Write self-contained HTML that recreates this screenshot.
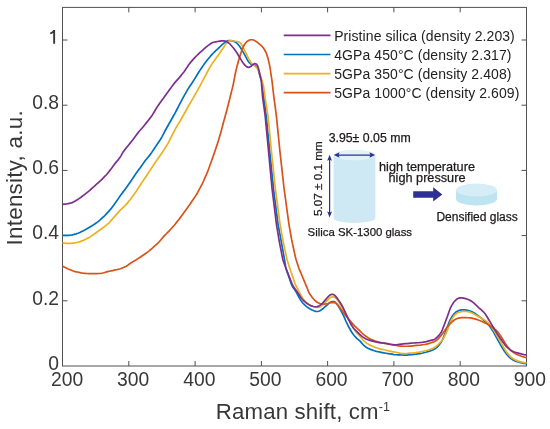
<!DOCTYPE html><html><head><meta charset="utf-8"><style>html,body{margin:0;padding:0;background:#fff;}svg{display:block;will-change:transform;}text{font-family:"Liberation Sans",sans-serif;}</style></head><body>
<svg width="550" height="429" viewBox="0 0 550 429">
<rect width="550" height="429" fill="#fff"/>
<defs><clipPath id="pc"><rect x="62.5" y="7.4" width="464.0" height="358.6"/></clipPath></defs>
<g stroke="#505050" stroke-width="1" fill="none">
<rect x="62.5" y="7.4" width="464.0" height="358.6"/>
<line x1="128.8" y1="366.0" x2="128.8" y2="361.0"/>
<line x1="128.8" y1="7.4" x2="128.8" y2="12.4"/>
<line x1="195.1" y1="366.0" x2="195.1" y2="361.0"/>
<line x1="195.1" y1="7.4" x2="195.1" y2="12.4"/>
<line x1="261.4" y1="366.0" x2="261.4" y2="361.0"/>
<line x1="261.4" y1="7.4" x2="261.4" y2="12.4"/>
<line x1="327.6" y1="366.0" x2="327.6" y2="361.0"/>
<line x1="327.6" y1="7.4" x2="327.6" y2="12.4"/>
<line x1="393.9" y1="366.0" x2="393.9" y2="361.0"/>
<line x1="393.9" y1="7.4" x2="393.9" y2="12.4"/>
<line x1="460.2" y1="366.0" x2="460.2" y2="361.0"/>
<line x1="460.2" y1="7.4" x2="460.2" y2="12.4"/>
<line x1="62.5" y1="300.8" x2="67.5" y2="300.8"/>
<line x1="526.5" y1="300.8" x2="521.5" y2="300.8"/>
<line x1="62.5" y1="235.6" x2="67.5" y2="235.6"/>
<line x1="526.5" y1="235.6" x2="521.5" y2="235.6"/>
<line x1="62.5" y1="170.4" x2="67.5" y2="170.4"/>
<line x1="526.5" y1="170.4" x2="521.5" y2="170.4"/>
<line x1="62.5" y1="105.2" x2="67.5" y2="105.2"/>
<line x1="526.5" y1="105.2" x2="521.5" y2="105.2"/>
<line x1="62.5" y1="40.0" x2="67.5" y2="40.0"/>
<line x1="526.5" y1="40.0" x2="521.5" y2="40.0"/>
</g>
<g clip-path="url(#pc)" fill="none" stroke-width="1.7" stroke-linejoin="round" stroke-linecap="round">
<path stroke="#0072BD" d="M62.30,235.40 L64.30,235.43 L66.30,235.46 L68.30,235.44 L70.27,235.23 L72.24,234.86 L74.18,234.41 L76.09,233.83 L77.99,233.19 L79.84,232.44 L81.64,231.58 L83.43,230.68 L85.21,229.77 L86.96,228.80 L88.69,227.80 L90.41,226.78 L92.12,225.74 L93.77,224.62 L95.41,223.47 L97.04,222.32 L98.63,221.11 L100.15,219.80 L101.63,218.46 L103.11,217.12 L104.57,215.76 L105.97,214.32 L107.32,212.85 L108.67,211.38 L110.02,209.90 L111.32,208.38 L112.52,206.79 L113.69,205.17 L114.86,203.54 L116.02,201.91 L117.17,200.27 L118.30,198.63 L119.44,196.98 L120.59,195.35 L121.78,193.74 L122.97,192.13 L124.17,190.53 L125.35,188.92 L126.52,187.30 L127.69,185.67 L128.86,184.05 L130.02,182.42 L131.15,180.77 L132.25,179.10 L133.36,177.43 L134.47,175.77 L135.59,174.11 L136.75,172.48 L137.93,170.87 L139.11,169.25 L140.28,167.63 L141.44,166.00 L142.59,164.37 L143.74,162.73 L144.91,161.11 L146.14,159.53 L147.40,157.98 L148.67,156.43 L149.93,154.88 L151.14,153.29 L152.27,151.64 L153.37,149.97 L154.48,148.30 L155.58,146.64 L156.69,144.97 L157.81,143.32 L158.93,141.66 L160.05,140.00 L161.12,138.31 L162.09,136.57 L163.02,134.79 L163.94,133.02 L164.86,131.24 L165.80,129.48 L166.78,127.73 L167.77,125.99 L168.76,124.26 L169.75,122.52 L170.73,120.78 L171.71,119.03 L172.69,117.29 L173.67,115.54 L174.64,113.79 L175.59,112.04 L176.52,110.26 L177.44,108.49 L178.37,106.72 L179.29,104.94 L180.21,103.17 L181.13,101.39 L182.05,99.61 L182.98,97.84 L183.95,96.09 L184.94,94.36 L185.94,92.62 L186.93,90.89 L187.94,89.16 L189.01,87.47 L190.12,85.81 L191.24,84.15 L192.36,82.49 L193.46,80.82 L194.52,79.12 L195.56,77.41 L196.59,75.71 L197.63,74.00 L198.69,72.30 L199.78,70.62 L200.88,68.95 L201.99,67.29 L203.10,65.62 L204.26,63.99 L205.46,62.40 L206.68,60.81 L207.92,59.24 L209.20,57.71 L210.49,56.18 L211.82,54.68 L213.18,53.22 L214.58,51.79 L216.03,50.42 L217.54,49.10 L219.01,47.75 L220.44,46.36 L221.87,44.96 L223.36,43.62 L224.91,42.37 L226.57,41.29 L228.40,40.65 L230.35,40.58 L232.31,40.91 L234.20,41.51 L235.93,42.45 L237.46,43.69 L238.75,45.20 L239.93,46.81 L241.02,48.49 L242.05,50.20 L243.05,51.93 L244.03,53.68 L244.99,55.43 L245.95,57.19 L246.89,58.95 L247.85,60.70 L248.99,62.31 L250.43,63.66 L252.10,64.65 L253.97,65.28 L255.75,66.05 L257.07,67.35 L257.96,69.11 L258.62,70.98 L259.15,72.91 L259.65,74.85 L260.19,76.77 L260.83,78.66 L261.46,80.55 L261.88,82.50 L262.15,84.48 L262.40,86.46 L262.66,88.45 L262.91,90.43 L263.17,92.41 L263.42,94.40 L263.68,96.38 L263.93,98.37 L264.19,100.35 L264.44,102.33 L264.70,104.32 L264.95,106.30 L265.21,108.29 L265.46,110.27 L265.72,112.25 L265.97,114.24 L266.21,116.22 L266.42,118.21 L266.62,120.20 L266.82,122.19 L267.02,124.18 L267.22,126.17 L267.42,128.16 L267.62,130.15 L267.81,132.14 L268.01,134.13 L268.21,136.13 L268.41,138.12 L268.61,140.11 L268.81,142.10 L269.01,144.09 L269.21,146.08 L269.41,148.07 L269.61,150.06 L269.80,152.05 L270.00,154.04 L270.20,156.03 L270.40,158.02 L270.60,160.01 L270.80,162.00 L271.00,163.99 L271.20,165.98 L271.40,167.97 L271.60,169.96 L271.80,171.95 L271.99,173.94 L272.19,175.93 L272.39,177.92 L272.59,179.91 L272.79,181.90 L272.99,183.89 L273.19,185.88 L273.40,187.87 L273.64,189.86 L273.89,191.84 L274.14,193.83 L274.40,195.81 L274.65,197.79 L274.91,199.78 L275.16,201.76 L275.41,203.75 L275.67,205.73 L275.92,207.72 L276.17,209.70 L276.43,211.68 L276.68,213.67 L276.93,215.65 L277.19,217.64 L277.44,219.62 L277.69,221.60 L277.97,223.59 L278.30,225.56 L278.66,227.52 L279.03,229.49 L279.40,231.46 L279.77,233.42 L280.14,235.39 L280.50,237.35 L280.87,239.32 L281.23,241.29 L281.59,243.26 L281.94,245.22 L282.29,247.19 L282.65,249.16 L283.00,251.13 L283.36,253.10 L283.71,255.07 L284.07,257.04 L284.42,259.01 L284.74,260.98 L285.04,262.96 L285.34,264.93 L285.66,266.91 L286.13,268.84 L286.75,270.74 L287.40,272.63 L288.05,274.53 L288.70,276.42 L289.35,278.31 L290.00,280.20 L290.65,282.09 L291.31,283.98 L292.08,285.81 L293.11,287.50 L294.27,289.13 L295.43,290.76 L296.46,292.47 L297.37,294.24 L298.28,296.03 L299.24,297.77 L300.28,299.48 L301.38,301.15 L302.60,302.73 L303.93,304.22 L305.37,305.60 L306.90,306.88 L308.53,308.03 L310.24,309.06 L312.02,309.97 L313.85,310.75 L315.74,311.34 L317.66,311.49 L319.53,310.99 L321.22,310.00 L322.80,308.78 L324.31,307.47 L325.79,306.13 L327.27,304.77 L328.77,303.46 L330.37,302.29 L332.13,301.50 L333.94,301.52 L335.54,302.49 L336.88,303.95 L338.06,305.55 L339.09,307.26 L340.05,309.01 L341.01,310.77 L341.96,312.53 L342.89,314.30 L343.74,316.11 L344.52,317.95 L345.29,319.79 L346.10,321.62 L346.96,323.42 L347.86,325.21 L348.77,326.99 L349.74,328.74 L350.74,330.47 L351.77,332.19 L352.88,333.84 L354.10,335.42 L355.38,336.96 L356.79,338.36 L358.34,339.62 L359.84,340.92 L361.17,342.40 L362.44,343.94 L363.82,345.37 L365.34,346.67 L367.00,347.76 L368.78,348.64 L370.63,349.41 L372.50,350.11 L374.38,350.77 L376.31,351.32 L378.25,351.76 L380.21,352.16 L382.18,352.55 L384.14,352.93 L386.11,353.26 L388.09,353.55 L390.07,353.85 L392.04,354.21 L394.00,354.55 L395.99,354.77 L397.98,354.88 L399.98,354.92 L401.98,355.00 L403.98,355.10 L405.97,355.11 L407.96,354.96 L409.96,354.77 L411.95,354.58 L413.94,354.39 L415.93,354.18 L417.91,353.90 L419.88,353.59 L421.84,353.22 L423.79,352.75 L425.73,352.26 L427.65,351.72 L429.57,351.14 L431.46,350.50 L433.28,349.70 L435.04,348.77 L436.64,347.60 L438.06,346.21 L439.36,344.70 L440.53,343.08 L441.63,341.42 L442.57,339.66 L443.31,337.81 L444.02,335.94 L444.72,334.07 L445.42,332.20 L446.11,330.32 L446.79,328.44 L447.47,326.56 L448.15,324.67 L448.85,322.80 L449.64,320.97 L450.56,319.20 L451.52,317.44 L452.54,315.73 L453.76,314.18 L455.17,312.76 L456.72,311.54 L458.48,310.64 L460.36,310.07 L462.33,309.88 L464.33,309.88 L466.31,310.04 L468.26,310.44 L470.16,311.04 L471.99,311.83 L473.76,312.76 L475.44,313.83 L477.09,314.96 L478.72,316.12 L480.33,317.31 L481.86,318.59 L483.34,319.93 L484.82,321.28 L486.30,322.63 L487.76,323.99 L489.10,325.46 L490.25,327.08 L491.36,328.75 L492.46,330.41 L493.51,332.12 L494.48,333.86 L495.44,335.62 L496.39,337.38 L497.35,339.13 L498.32,340.88 L499.30,342.63 L500.28,344.37 L501.27,346.11 L502.28,347.83 L503.36,349.52 L504.46,351.19 L505.56,352.86 L506.76,354.45 L508.12,355.91 L509.53,357.32 L511.03,358.63 L512.70,359.71 L514.44,360.67 L516.28,361.43 L518.19,361.99 L520.13,362.48 L522.08,362.94 L524.04,363.34 L526.01,363.66 L527.00,363.80"/>
<path stroke="#EDB120" d="M62.30,242.80 L64.28,243.06 L66.27,243.30 L68.26,243.41 L70.25,243.35 L72.25,243.21 L74.23,242.97 L76.20,242.65 L78.15,242.23 L80.05,241.61 L81.92,240.92 L83.76,240.14 L85.56,239.27 L87.35,238.37 L89.11,237.44 L90.80,236.37 L92.44,235.23 L94.08,234.08 L95.72,232.93 L97.35,231.78 L98.99,230.63 L100.63,229.48 L102.24,228.30 L103.83,227.08 L105.39,225.84 L106.95,224.59 L108.47,223.29 L109.86,221.86 L111.19,220.37 L112.51,218.86 L113.83,217.36 L115.15,215.86 L116.47,214.35 L117.79,212.85 L119.11,211.35 L120.49,209.90 L121.95,208.53 L123.43,207.19 L124.88,205.82 L126.24,204.36 L127.53,202.83 L128.81,201.30 L130.08,199.75 L131.30,198.16 L132.48,196.55 L133.66,194.93 L134.83,193.31 L135.96,191.66 L137.06,189.99 L138.14,188.31 L139.23,186.63 L140.32,184.95 L141.42,183.28 L142.54,181.63 L143.66,179.97 L144.78,178.31 L145.90,176.65 L147.00,174.98 L148.11,173.32 L149.21,171.65 L150.32,169.98 L151.42,168.31 L152.53,166.64 L153.63,164.98 L154.74,163.31 L155.85,161.65 L156.99,160.00 L158.14,158.36 L159.29,156.73 L160.44,155.10 L161.61,153.47 L162.74,151.82 L163.82,150.14 L164.88,148.44 L165.94,146.75 L166.99,145.05 L167.99,143.31 L168.91,141.54 L169.83,139.76 L170.74,137.98 L171.65,136.20 L172.55,134.41 L173.44,132.62 L174.34,130.83 L175.27,129.06 L176.27,127.33 L177.30,125.62 L178.34,123.91 L179.37,122.20 L180.40,120.48 L181.39,118.74 L182.38,117.00 L183.37,115.26 L184.35,113.52 L185.33,111.78 L186.30,110.03 L187.26,108.27 L188.21,106.51 L189.18,104.76 L190.18,103.03 L191.20,101.31 L192.21,99.58 L193.23,97.86 L194.23,96.13 L195.22,94.39 L196.22,92.66 L197.21,90.92 L198.20,89.18 L199.16,87.43 L200.09,85.66 L201.03,83.89 L201.96,82.12 L202.89,80.35 L203.82,78.58 L204.76,76.81 L205.70,75.04 L206.63,73.28 L207.57,71.51 L208.53,69.75 L209.53,68.02 L210.56,66.31 L211.60,64.60 L212.67,62.91 L213.81,61.27 L214.98,59.64 L216.16,58.03 L217.35,56.42 L218.53,54.81 L219.67,53.16 L220.80,51.51 L221.92,49.85 L223.03,48.19 L224.14,46.52 L225.25,44.86 L226.44,43.27 L227.82,41.85 L229.41,40.92 L231.30,40.80 L233.28,41.00 L235.26,41.26 L237.24,41.51 L239.10,42.00 L240.62,43.14 L241.74,44.75 L242.66,46.52 L243.56,48.31 L244.45,50.10 L245.34,51.89 L246.24,53.68 L247.12,55.47 L248.00,57.27 L248.92,59.05 L249.87,60.80 L250.87,62.53 L252.10,64.05 L253.63,65.32 L255.28,66.40 L256.78,67.62 L257.88,69.23 L258.79,71.00 L259.51,72.86 L260.13,74.76 L260.74,76.66 L261.36,78.57 L261.98,80.47 L262.56,82.38 L263.05,84.32 L263.50,86.27 L263.84,88.23 L264.11,90.22 L264.36,92.20 L264.61,94.18 L264.87,96.17 L265.14,98.15 L265.44,100.13 L265.76,102.10 L266.08,104.08 L266.40,106.05 L266.72,108.03 L267.03,110.00 L267.35,111.98 L267.67,113.95 L267.96,115.93 L268.18,117.92 L268.38,119.91 L268.57,121.90 L268.77,123.89 L268.96,125.88 L269.15,127.87 L269.35,129.86 L269.54,131.85 L269.73,133.85 L269.93,135.84 L270.12,137.83 L270.32,139.82 L270.51,141.81 L270.70,143.80 L270.90,145.79 L271.09,147.78 L271.28,149.77 L271.48,151.76 L271.69,153.75 L271.90,155.74 L272.11,157.73 L272.32,159.72 L272.53,161.71 L272.74,163.70 L272.95,165.69 L273.16,167.68 L273.37,169.67 L273.58,171.66 L273.79,173.65 L274.00,175.64 L274.21,177.63 L274.42,179.62 L274.63,181.61 L274.84,183.60 L275.05,185.58 L275.26,187.57 L275.51,189.56 L275.76,191.54 L276.02,193.53 L276.28,195.51 L276.54,197.49 L276.80,199.48 L277.06,201.46 L277.32,203.44 L277.58,205.43 L277.83,207.41 L278.09,209.39 L278.35,211.38 L278.61,213.36 L278.87,215.35 L279.13,217.33 L279.39,219.31 L279.65,221.30 L279.92,223.28 L280.23,225.25 L280.57,227.23 L280.92,229.20 L281.26,231.17 L281.61,233.14 L281.96,235.11 L282.31,237.08 L282.66,239.04 L283.02,241.01 L283.43,242.97 L283.85,244.93 L284.27,246.88 L284.69,248.84 L285.11,250.79 L285.53,252.75 L285.96,254.70 L286.38,256.66 L286.81,258.61 L287.31,260.55 L287.90,262.46 L288.52,264.36 L289.14,266.26 L289.76,268.16 L290.40,270.06 L291.04,271.95 L291.68,273.85 L292.32,275.74 L292.97,277.64 L293.61,279.53 L294.25,281.43 L294.89,283.32 L295.60,285.18 L296.55,286.91 L297.58,288.60 L298.43,290.40 L299.24,292.23 L300.15,294.01 L301.13,295.75 L302.17,297.45 L303.33,299.07 L304.60,300.61 L306.00,302.03 L307.53,303.31 L309.17,304.44 L310.89,305.45 L312.70,306.30 L314.57,306.98 L316.50,307.39 L318.43,307.38 L320.24,306.72 L321.87,305.61 L323.36,304.28 L324.80,302.89 L326.22,301.48 L327.63,300.07 L329.06,298.67 L330.56,297.41 L332.31,296.73 L334.13,296.93 L335.72,297.98 L337.02,299.47 L338.19,301.09 L339.25,302.78 L340.28,304.49 L341.30,306.21 L342.33,307.93 L343.35,309.65 L344.36,311.38 L345.37,313.11 L346.38,314.83 L347.39,316.56 L348.36,318.30 L349.31,320.07 L350.25,321.84 L351.17,323.61 L352.07,325.39 L352.99,327.17 L353.99,328.90 L355.08,330.57 L356.22,332.21 L357.52,333.72 L358.94,335.12 L360.29,336.59 L361.51,338.17 L362.74,339.74 L364.13,341.16 L365.66,342.44 L367.29,343.60 L369.00,344.62 L370.79,345.50 L372.62,346.31 L374.46,347.09 L376.33,347.81 L378.22,348.43 L380.16,348.92 L382.12,349.34 L384.07,349.77 L386.01,350.26 L387.95,350.73 L389.90,351.17 L391.86,351.57 L393.83,351.95 L395.80,352.29 L397.75,352.70 L399.69,353.17 L401.65,353.43 L403.65,353.52 L405.65,353.53 L407.64,353.39 L409.63,353.20 L411.62,353.01 L413.61,352.82 L415.60,352.62 L417.59,352.35 L419.56,352.05 L421.53,351.68 L423.47,351.23 L425.41,350.74 L427.34,350.21 L429.26,349.64 L431.16,349.01 L432.99,348.24 L434.76,347.33 L436.39,346.21 L437.85,344.85 L439.24,343.42 L440.61,341.96 L441.95,340.48 L443.13,338.89 L444.10,337.15 L445.00,335.36 L445.87,333.56 L446.71,331.74 L447.52,329.91 L448.23,328.05 L448.89,326.16 L449.54,324.27 L450.23,322.39 L451.07,320.59 L452.07,318.86 L453.10,317.15 L454.27,315.56 L455.71,314.20 L457.31,313.04 L459.10,312.23 L461.02,311.70 L462.99,311.40 L464.98,311.32 L466.96,311.51 L468.91,311.92 L470.81,312.53 L472.64,313.31 L474.42,314.22 L476.16,315.20 L477.88,316.22 L479.61,317.23 L481.35,318.21 L483.12,319.13 L484.82,320.15 L486.39,321.38 L487.90,322.68 L489.28,324.12 L490.51,325.69 L491.70,327.29 L492.87,328.91 L493.97,330.59 L495.01,332.30 L496.04,334.01 L497.07,335.72 L498.07,337.46 L499.05,339.20 L500.02,340.95 L500.99,342.70 L501.97,344.44 L502.98,346.17 L504.00,347.89 L505.02,349.61 L506.07,351.31 L507.24,352.92 L508.53,354.45 L509.85,355.95 L511.27,357.33 L512.88,358.50 L514.57,359.56 L516.36,360.42 L518.24,361.09 L520.15,361.67 L522.09,362.14 L524.05,362.56 L526.01,362.93 L527.00,363.10"/>
<path stroke="#D95319" d="M62.30,266.00 L64.08,266.92 L65.85,267.84 L67.65,268.71 L69.50,269.48 L71.35,270.23 L73.21,270.96 L75.11,271.58 L77.05,272.02 L79.01,272.43 L80.98,272.81 L82.95,273.10 L84.94,273.30 L86.94,273.49 L88.93,273.64 L90.93,273.70 L92.93,273.70 L94.93,273.69 L96.93,273.64 L98.92,273.52 L100.91,273.36 L102.87,273.03 L104.80,272.49 L106.71,271.91 L108.64,271.39 L110.59,270.97 L112.55,270.56 L114.51,270.15 L116.46,269.72 L118.41,269.25 L120.34,268.74 L122.22,268.08 L124.05,267.28 L125.86,266.43 L127.56,265.41 L129.15,264.21 L130.79,263.07 L132.50,262.03 L134.22,261.01 L135.92,259.97 L137.61,258.88 L139.28,257.79 L140.95,256.69 L142.61,255.58 L144.27,254.45 L145.92,253.32 L147.55,252.17 L149.11,250.92 L150.62,249.61 L152.13,248.29 L153.63,246.96 L155.11,245.63 L156.59,244.28 L158.06,242.93 L159.46,241.50 L160.75,239.98 L162.03,238.43 L163.31,236.90 L164.64,235.41 L166.05,233.99 L167.48,232.59 L168.89,231.17 L170.25,229.71 L171.59,228.22 L172.91,226.72 L174.23,225.22 L175.51,223.68 L176.75,222.11 L177.99,220.54 L179.23,218.96 L180.44,217.38 L181.63,215.77 L182.81,214.15 L183.99,212.53 L185.16,210.91 L186.33,209.29 L187.49,207.66 L188.64,206.02 L189.79,204.39 L190.94,202.75 L192.07,201.10 L193.19,199.44 L194.31,197.79 L195.43,196.13 L196.52,194.45 L197.53,192.72 L198.47,190.96 L199.42,189.20 L200.36,187.43 L201.30,185.66 L202.21,183.89 L203.06,182.08 L203.87,180.25 L204.68,178.42 L205.48,176.59 L206.29,174.75 L207.09,172.92 L207.83,171.06 L208.53,169.19 L209.23,167.31 L209.92,165.44 L210.61,163.56 L211.29,161.68 L211.95,159.79 L212.61,157.90 L213.27,156.01 L213.93,154.12 L214.58,152.23 L215.22,150.34 L215.85,148.44 L216.49,146.54 L217.12,144.64 L217.74,142.74 L218.34,140.83 L218.90,138.91 L219.46,136.99 L220.02,135.07 L220.58,133.15 L221.14,131.23 L221.67,129.30 L222.18,127.36 L222.67,125.43 L223.18,123.49 L223.69,121.56 L224.23,119.63 L224.76,117.70 L225.30,115.77 L225.83,113.85 L226.37,111.92 L226.89,109.99 L227.39,108.05 L227.87,106.11 L228.36,104.17 L228.84,102.23 L229.33,100.28 L229.81,98.34 L230.30,96.40 L230.78,94.46 L231.27,92.52 L231.75,90.58 L232.24,88.64 L232.72,86.70 L233.18,84.75 L233.57,82.79 L233.93,80.82 L234.29,78.85 L234.66,76.89 L235.04,74.92 L235.47,72.97 L235.91,71.02 L236.36,69.07 L236.82,67.12 L237.32,65.18 L237.84,63.25 L238.37,61.32 L238.91,59.40 L239.48,57.48 L240.08,55.57 L240.70,53.67 L241.33,51.77 L242.02,49.90 L242.77,48.04 L243.57,46.21 L244.55,44.48 L245.72,42.87 L247.07,41.44 L248.71,40.37 L250.56,39.77 L252.49,39.77 L254.33,40.38 L256.04,41.40 L257.67,42.56 L259.24,43.80 L260.75,45.10 L262.13,46.53 L263.40,48.08 L264.51,49.72 L265.46,51.48 L266.32,53.28 L267.01,55.15 L267.59,57.06 L268.13,58.99 L268.61,60.93 L269.04,62.88 L269.47,64.84 L269.89,66.79 L270.23,68.76 L270.50,70.74 L270.77,72.73 L271.03,74.71 L271.33,76.69 L271.66,78.66 L271.96,80.64 L272.21,82.62 L272.44,84.61 L272.67,86.60 L272.90,88.59 L273.13,90.57 L273.37,92.56 L273.60,94.55 L273.83,96.53 L274.07,98.52 L274.33,100.50 L274.60,102.49 L274.86,104.47 L275.13,106.45 L275.39,108.44 L275.66,110.42 L275.92,112.40 L276.18,114.39 L276.43,116.37 L276.64,118.36 L276.84,120.35 L277.03,122.34 L277.23,124.33 L277.43,126.32 L277.63,128.31 L277.83,130.31 L278.03,132.30 L278.23,134.29 L278.43,136.28 L278.63,138.27 L278.83,140.26 L279.03,142.25 L279.22,144.24 L279.42,146.23 L279.62,148.22 L279.82,150.21 L280.03,152.20 L280.24,154.19 L280.46,156.18 L280.69,158.17 L280.91,160.16 L281.13,162.15 L281.35,164.13 L281.57,166.12 L281.79,168.11 L282.01,170.10 L282.23,172.09 L282.45,174.08 L282.67,176.06 L282.89,178.05 L283.12,180.04 L283.34,182.03 L283.56,184.02 L283.78,186.01 L284.01,187.99 L284.27,189.98 L284.54,191.96 L284.81,193.94 L285.08,195.93 L285.35,197.91 L285.62,199.89 L285.89,201.87 L286.16,203.85 L286.43,205.84 L286.70,207.82 L286.97,209.80 L287.24,211.78 L287.51,213.77 L287.78,215.75 L288.05,217.73 L288.32,219.71 L288.59,221.70 L288.87,223.68 L289.19,225.65 L289.53,227.62 L289.88,229.59 L290.22,231.56 L290.57,233.53 L290.91,235.51 L291.26,237.48 L291.61,239.44 L292.01,241.41 L292.43,243.36 L292.85,245.32 L293.28,247.27 L293.70,249.23 L294.12,251.18 L294.55,253.14 L294.97,255.09 L295.41,257.04 L295.93,258.97 L296.52,260.88 L297.13,262.79 L297.74,264.69 L298.36,266.60 L299.03,268.48 L299.77,270.34 L300.54,272.18 L301.31,274.03 L302.08,275.88 L302.85,277.72 L303.62,279.57 L304.39,281.42 L305.16,283.26 L305.93,285.11 L306.72,286.95 L307.45,288.81 L308.12,290.69 L308.91,292.51 L309.95,294.21 L311.07,295.86 L312.27,297.47 L313.53,299.02 L314.90,300.46 L316.43,301.74 L318.10,302.80 L319.92,303.58 L321.85,304.02 L323.83,304.16 L325.81,304.01 L327.76,303.59 L329.68,303.03 L331.61,302.55 L333.55,302.37 L335.35,302.89 L336.88,304.08 L338.20,305.57 L339.43,307.15 L340.63,308.75 L341.82,310.35 L343.03,311.95 L344.23,313.55 L345.42,315.16 L346.64,316.75 L347.89,318.30 L349.18,319.83 L350.49,321.35 L351.82,322.84 L353.16,324.32 L354.53,325.78 L355.95,327.19 L357.40,328.57 L358.88,329.92 L360.32,331.30 L361.69,332.75 L363.11,334.16 L364.66,335.41 L366.29,336.56 L367.98,337.64 L369.71,338.64 L371.49,339.54 L373.33,340.31 L375.21,340.99 L377.11,341.62 L379.04,342.15 L380.98,342.60 L382.94,343.01 L384.91,343.40 L386.87,343.78 L388.84,344.12 L390.81,344.47 L392.77,344.85 L394.75,345.18 L396.73,345.46 L398.70,345.79 L400.67,346.07 L402.67,346.19 L404.67,346.25 L406.67,346.25 L408.66,346.18 L410.66,346.06 L412.65,345.88 L414.64,345.66 L416.63,345.44 L418.62,345.25 L420.61,345.04 L422.59,344.78 L424.57,344.48 L426.53,344.10 L428.46,343.57 L430.37,343.00 L432.28,342.38 L434.15,341.70 L435.90,340.82 L437.39,339.54 L438.78,338.10 L440.11,336.61 L441.41,335.09 L442.64,333.51 L443.78,331.87 L444.92,330.23 L446.08,328.60 L447.29,327.01 L448.57,325.47 L449.88,323.96 L451.28,322.54 L452.77,321.21 L454.36,320.02 L456.10,319.05 L457.94,318.31 L459.87,317.86 L461.85,317.67 L463.84,317.68 L465.84,317.70 L467.84,317.74 L469.84,317.87 L471.81,318.14 L473.76,318.59 L475.68,319.15 L477.57,319.79 L479.45,320.49 L481.30,321.23 L483.14,322.01 L484.95,322.87 L486.73,323.79 L488.47,324.76 L490.17,325.81 L491.84,326.91 L493.47,328.08 L495.02,329.33 L496.53,330.64 L497.90,332.07 L499.08,333.68 L500.21,335.33 L501.33,336.99 L502.42,338.66 L503.47,340.37 L504.50,342.08 L505.54,343.79 L506.64,345.46 L507.88,347.02 L509.17,348.55 L510.50,350.04 L511.98,351.36 L513.59,352.55 L515.25,353.64 L517.03,354.54 L518.87,355.33 L520.74,356.04 L522.63,356.69 L524.55,357.23 L526.51,357.61 L527.00,357.70"/>
<path stroke="#7E2F8E" d="M62.30,204.30 L64.29,204.13 L66.28,203.93 L68.25,203.62 L70.21,203.20 L72.10,202.61 L73.90,201.75 L75.63,200.75 L77.34,199.71 L79.03,198.64 L80.66,197.49 L82.26,196.29 L83.84,195.06 L85.41,193.83 L86.98,192.58 L88.54,191.33 L90.06,190.03 L91.55,188.70 L93.04,187.36 L94.53,186.03 L96.02,184.69 L97.51,183.35 L98.99,182.02 L100.47,180.67 L101.91,179.28 L103.33,177.87 L104.74,176.46 L106.14,175.02 L107.45,173.52 L108.70,171.96 L109.95,170.39 L111.18,168.81 L112.36,167.20 L113.53,165.57 L114.69,163.95 L115.93,162.39 L117.26,160.90 L118.56,159.37 L119.74,157.77 L120.82,156.09 L121.76,154.33 L122.72,152.58 L123.87,150.95 L125.10,149.38 L126.35,147.82 L127.60,146.26 L128.86,144.70 L130.12,143.15 L131.38,141.59 L132.63,140.03 L133.84,138.44 L135.02,136.83 L136.20,135.21 L137.39,133.60 L138.63,132.03 L139.93,130.52 L141.25,129.01 L142.57,127.51 L143.85,125.97 L145.10,124.41 L146.35,122.85 L147.59,121.28 L148.83,119.71 L150.04,118.12 L151.25,116.52 L152.40,114.89 L153.44,113.18 L154.45,111.46 L155.46,109.73 L156.51,108.03 L157.60,106.35 L158.71,104.68 L159.86,103.05 L161.04,101.44 L162.23,99.82 L163.41,98.21 L164.59,96.59 L165.77,94.98 L166.94,93.36 L168.12,91.74 L169.30,90.12 L170.47,88.50 L171.63,86.87 L172.80,85.25 L174.00,83.65 L175.28,82.12 L176.63,80.64 L177.97,79.16 L179.30,77.66 L180.57,76.12 L181.82,74.56 L183.07,72.99 L184.29,71.41 L185.44,69.77 L186.55,68.11 L187.65,66.44 L188.76,64.78 L189.95,63.17 L191.23,61.64 L192.55,60.14 L193.88,58.64 L195.25,57.18 L196.67,55.77 L198.09,54.37 L199.53,52.98 L201.00,51.62 L202.48,50.28 L203.97,48.94 L205.48,47.63 L207.04,46.39 L208.64,45.19 L210.25,44.00 L211.90,42.91 L213.73,42.24 L215.68,41.86 L217.65,41.49 L219.62,41.15 L221.60,40.88 L223.57,40.80 L225.48,41.17 L227.26,42.01 L228.88,43.17 L230.36,44.49 L231.71,45.96 L233.02,47.47 L234.24,49.05 L235.39,50.69 L236.52,52.34 L237.62,54.01 L238.66,55.72 L239.69,57.44 L240.71,59.16 L241.74,60.87 L242.80,62.56 L244.00,64.16 L245.32,65.64 L246.82,66.91 L248.46,67.52 L250.09,66.92 L251.65,65.71 L253.12,64.41 L254.72,63.59 L256.33,63.96 L257.41,65.40 L258.15,67.23 L258.68,69.15 L259.10,71.10 L259.52,73.06 L259.97,75.01 L260.45,76.95 L260.91,78.90 L261.24,80.86 L261.44,82.85 L261.60,84.84 L261.77,86.84 L261.94,88.83 L262.10,90.83 L262.27,92.82 L262.43,94.81 L262.61,96.81 L262.82,98.79 L263.09,100.78 L263.36,102.76 L263.64,104.74 L263.91,106.72 L264.19,108.70 L264.46,110.68 L264.74,112.67 L265.01,114.65 L265.25,116.63 L265.45,118.62 L265.64,120.62 L265.82,122.61 L266.01,124.60 L266.20,126.59 L266.39,128.58 L266.58,130.57 L266.76,132.57 L266.95,134.56 L267.14,136.55 L267.33,138.54 L267.52,140.53 L267.71,142.53 L267.89,144.52 L268.08,146.51 L268.27,148.50 L268.46,150.49 L268.65,152.48 L268.83,154.48 L269.02,156.47 L269.21,158.46 L269.40,160.45 L269.59,162.44 L269.77,164.43 L269.96,166.43 L270.15,168.42 L270.34,170.41 L270.53,172.40 L270.71,174.39 L270.90,176.38 L271.09,178.38 L271.28,180.37 L271.47,182.36 L271.66,184.35 L271.85,186.34 L272.05,188.33 L272.28,190.32 L272.53,192.31 L272.77,194.29 L273.01,196.28 L273.25,198.26 L273.50,200.25 L273.74,202.23 L273.98,204.22 L274.23,206.21 L274.47,208.19 L274.71,210.18 L274.95,212.16 L275.20,214.15 L275.44,216.14 L275.68,218.12 L275.92,220.11 L276.17,222.09 L276.43,224.08 L276.74,226.05 L277.06,228.03 L277.39,230.00 L277.71,231.97 L278.04,233.95 L278.36,235.92 L278.69,237.90 L279.02,239.87 L279.37,241.84 L279.75,243.80 L280.13,245.77 L280.51,247.73 L280.89,249.69 L281.28,251.66 L281.66,253.62 L282.04,255.59 L282.42,257.55 L282.85,259.50 L283.43,261.41 L284.11,263.29 L284.80,265.17 L285.48,267.05 L286.18,268.92 L286.91,270.79 L287.64,272.65 L288.37,274.51 L289.11,276.37 L289.84,278.23 L290.57,280.09 L291.31,281.96 L292.04,283.81 L292.86,285.63 L293.91,287.31 L295.10,288.92 L296.27,290.54 L297.40,292.19 L298.51,293.86 L299.62,295.52 L300.73,297.18 L301.92,298.78 L303.23,300.29 L304.65,301.69 L306.21,302.94 L307.84,304.09 L309.54,305.13 L311.35,305.94 L313.26,306.50 L315.22,306.76 L317.17,306.64 L319.01,306.01 L320.63,304.90 L322.06,303.52 L323.43,302.07 L324.77,300.58 L326.08,299.07 L327.37,297.54 L328.75,296.11 L330.30,294.89 L332.04,294.24 L333.78,294.63 L335.26,295.85 L336.54,297.38 L337.73,298.99 L338.88,300.63 L339.99,302.29 L341.06,303.98 L342.07,305.70 L343.02,307.46 L343.88,309.26 L344.71,311.08 L345.54,312.91 L346.36,314.73 L347.18,316.55 L348.02,318.37 L348.89,320.17 L349.77,321.97 L350.70,323.73 L351.74,325.44 L352.82,327.13 L353.98,328.74 L355.35,330.17 L356.83,331.52 L358.28,332.89 L359.72,334.28 L361.20,335.63 L362.74,336.90 L364.37,338.05 L366.10,339.03 L367.94,339.79 L369.85,340.38 L371.78,340.88 L373.72,341.38 L375.66,341.87 L377.61,342.29 L379.59,342.61 L381.57,342.83 L383.56,343.01 L385.54,343.29 L387.50,343.68 L389.45,344.12 L391.42,344.43 L393.41,344.62 L395.41,344.73 L397.40,344.66 L399.37,344.38 L401.35,344.11 L403.34,343.90 L405.33,343.72 L407.32,343.53 L409.31,343.34 L411.30,343.16 L413.30,343.00 L415.29,342.86 L417.29,342.75 L419.29,342.67 L421.28,342.51 L423.25,342.20 L425.21,341.82 L427.17,341.40 L429.12,340.93 L431.06,340.45 L432.99,339.94 L434.78,339.20 L436.31,337.97 L437.71,336.56 L439.07,335.09 L440.36,333.57 L441.43,331.92 L442.21,330.09 L442.94,328.23 L443.67,326.36 L444.38,324.49 L445.09,322.62 L445.78,320.75 L446.48,318.87 L447.18,317.00 L447.86,315.11 L448.52,313.23 L449.17,311.34 L449.83,309.45 L450.57,307.60 L451.51,305.84 L452.54,304.12 L453.61,302.45 L454.88,300.92 L456.32,299.55 L457.93,298.46 L459.79,297.88 L461.74,297.84 L463.71,298.12 L465.65,298.58 L467.54,299.21 L469.37,300.02 L471.11,300.98 L472.73,302.14 L474.27,303.42 L475.74,304.76 L477.17,306.17 L478.62,307.54 L480.13,308.85 L481.65,310.15 L483.09,311.54 L484.45,313.00 L485.64,314.59 L486.70,316.28 L487.75,317.99 L488.79,319.70 L489.82,321.41 L490.84,323.13 L491.86,324.85 L492.89,326.57 L493.92,328.29 L494.95,330.00 L495.98,331.71 L497.02,333.42 L498.10,335.11 L499.21,336.77 L500.34,338.42 L501.47,340.07 L502.63,341.70 L503.82,343.31 L505.02,344.91 L506.26,346.47 L507.68,347.87 L509.20,349.16 L510.79,350.34 L512.55,351.26 L514.40,352.01 L516.30,352.63 L518.23,353.13 L520.17,353.63 L522.10,354.15 L524.04,354.62 L526.01,354.96 L527.00,355.10"/>
</g>
<g fill="#383838" font-size="19.3">
<text x="67.1" y="385.6" text-anchor="middle">200</text>
<text x="133.2" y="385.6" text-anchor="middle">300</text>
<text x="199.3" y="385.6" text-anchor="middle">400</text>
<text x="265.4" y="385.6" text-anchor="middle">500</text>
<text x="331.5" y="385.6" text-anchor="middle">600</text>
<text x="397.6" y="385.6" text-anchor="middle">700</text>
<text x="463.8" y="385.6" text-anchor="middle">800</text>
<text x="529.9" y="385.6" text-anchor="middle">900</text>
<text x="59.0" y="369.8" text-anchor="end">0</text>
<text x="59.0" y="304.6" text-anchor="end">0.2</text>
<text x="59.0" y="239.4" text-anchor="end">0.4</text>
<text x="59.0" y="174.2" text-anchor="end">0.6</text>
<text x="59.0" y="109.0" text-anchor="end">0.8</text>
</g>
<path d="M53.2,30.1 L55.1,30.1 L55.1,43.8 L53.2,43.8 L53.2,33.0 C52.4,33.6 51.3,34.0 50.2,34.2 L50.2,32.6 C51.8,32.2 52.8,31.2 53.2,30.1 Z" fill="#383838"/>
<text x="215.8" y="419.2" font-size="22.2" letter-spacing="0.18" fill="#383838">Raman shift, cm<tspan font-size="12.5" dy="-8.3" letter-spacing="0">-1</tspan></text>
<text transform="translate(22.4,245.5) rotate(-90)" font-size="22.3" letter-spacing="0.3" fill="#383838">Intensity, a.u.</text>
<line x1="283.7" y1="35.4" x2="330.5" y2="35.4" stroke="#7E2F8E" stroke-width="1.7"/>
<text x="334.2" y="40.7" font-size="14" letter-spacing="0.08" fill="#222">Pristine silica (density 2.203)</text>
<line x1="283.7" y1="54.5" x2="330.5" y2="54.5" stroke="#0072BD" stroke-width="1.7"/>
<text x="334.2" y="59.8" font-size="14" letter-spacing="0.08" fill="#222">4GPa 450°C (density 2.317)</text>
<line x1="283.7" y1="73.6" x2="330.5" y2="73.6" stroke="#EDB120" stroke-width="1.7"/>
<text x="334.2" y="78.9" font-size="14" letter-spacing="0.08" fill="#222">5GPa 350°C (density 2.408)</text>
<line x1="283.7" y1="92.7" x2="330.5" y2="92.7" stroke="#D95319" stroke-width="1.7"/>
<text x="334.2" y="98.0" font-size="14" letter-spacing="0.08" fill="#222">5GPa 1000°C (density 2.609)</text>
<g>
<path d="M333.6,155 L333.6,218 A20.9,5 0 0 0 375.4,218 L375.4,155 Z" fill="#cfe9f4"/>
<ellipse cx="354.5" cy="155" rx="20.9" ry="5.3" fill="#e2f2f9"/>
<path d="M456,190 L456,199 A20.5,6.5 0 0 0 497,199 L497,190 Z" fill="#bfe4f1"/>
<ellipse cx="476.5" cy="190" rx="20.5" ry="6.5" fill="#d4edf7"/>
<g stroke="#2E3192" stroke-width="1.25" fill="#2E3192">
<line x1="337" y1="155" x2="372" y2="155"/>
<path d="M333.8,155 L339.6,152.3 L338.6,155 L339.6,157.7 Z" stroke="none"/>
<path d="M375.2,155 L369.4,152.3 L370.4,155 L369.4,157.7 Z" stroke="none"/>
<line x1="329.6" y1="159" x2="329.6" y2="213"/>
<path d="M329.6,154.8 L327.2,160.8 L329.6,159.8 L332.0,160.8 Z" stroke="none"/>
<path d="M329.6,217.6 L327.2,211.6 L329.6,212.6 L332.0,211.6 Z" stroke="none"/>
</g>
<path d="M413.2,191.3 L433.2,191.3 L433.2,187.3 L442.3,194.5 L433.2,201.5 L433.2,197.8 L413.2,197.8 Z" fill="#2E3192"/>
<text x="328.7" y="142.2" font-size="12.3" fill="#1e1a1b" stroke="#1e1a1b" stroke-width="0.25">3.95± 0.05 mm</text>
<text transform="translate(321.7,216) rotate(-90)" font-size="11.7" fill="#1e1a1b" stroke="#1e1a1b" stroke-width="0.25">5.07 ± 0.1 mm</text>
<text x="307.6" y="235.9" font-size="11.4" fill="#1e1a1b" stroke="#1e1a1b" stroke-width="0.25">Silica SK-1300 glass</text>
<text x="427" y="171" font-size="12.7" fill="#1e1a1b" stroke="#1e1a1b" stroke-width="0.25" text-anchor="middle">high temperature</text>
<text x="427" y="182" font-size="12.7" fill="#1e1a1b" stroke="#1e1a1b" stroke-width="0.25" text-anchor="middle">high pressure</text>
<text x="436.4" y="220.5" font-size="12" fill="#1e1a1b" stroke="#1e1a1b" stroke-width="0.25">Densified glass</text>
</g>
</svg></body></html>
